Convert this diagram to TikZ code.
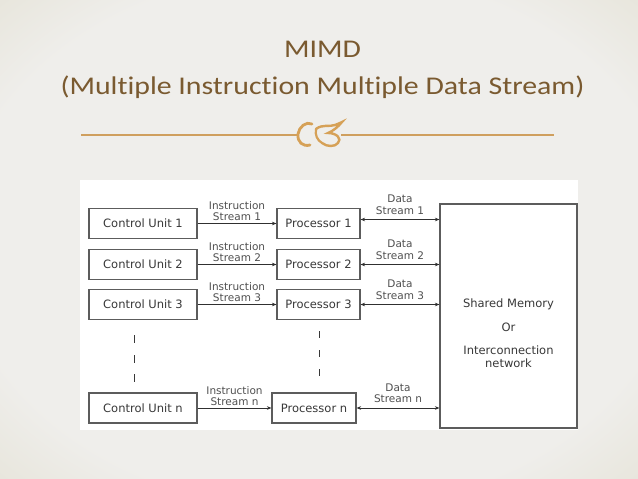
\documentclass[tikz,border=0pt]{standalone}
\usepackage{fontspec}
\setmainfont{DejaVu Sans}
\newfontfamily\titlefont[Ligatures={NoCommon}]{Carlito}
\usetikzlibrary{arrows.meta}
\definecolor{bgin}{HTML}{EFEEEB}
\definecolor{bgout}{HTML}{DAD6C0}
\definecolor{titlec}{HTML}{7A5A30}
\definecolor{goldc}{HTML}{D6A157}
\definecolor{rulec}{HTML}{CF9F5E}
\definecolor{boxc}{HTML}{5C5C5C}
\definecolor{txtc}{HTML}{383838}
\definecolor{lblc}{HTML}{505050}
\definecolor{arrc}{HTML}{303030}
\pgfdeclareradialshading{slidebg}{\pgfpoint{0bp}{0bp}}{color(0bp)=(bgin); color(28bp)=(bgin); color(50bp)=(bgout); color(72bp)=(bgout)}
\begin{document}
\begin{tikzpicture}[x=1pt,y=-1pt,
  box/.style={draw=boxc, line width=1.2pt, fill=white, inner sep=0pt, text=txtc, font=\fontsize{11.5}{13}\selectfont},
  cubox/.style={box, minimum width=108pt, minimum height=30pt},
  pbox/.style={box, minimum width=83pt, minimum height=30pt},
  ilbl/.style={font=\fontsize{10.5}{11}\selectfont, text=lblc, align=center, inner sep=2pt},
  dlbl/.style={font=\fontsize{10.5}{11.5}\selectfont, text=lblc, align=center, inner sep=4.5pt},
  conn/.style={draw=arrc, line width=0.8pt, -{Stealth[length=4.5pt,width=3.6pt]}},
  dconn/.style={draw=arrc, line width=0.8pt, {Stealth[length=4.5pt,width=3.6pt]}-{Stealth[length=4.5pt,width=3.6pt]}},
  titlestyle/.style={font=\titlefont\fontsize{25.5}{28}\selectfont, text=titlec, inner sep=0pt, anchor=base},
  vdots/.style={draw=txtc, line width=0.9pt}
]
\useasboundingbox (0,0) rectangle (638,479);
\shade[shading=slidebg] (0,0) rectangle (638,479);

% title
\node[titlestyle] (t1) at (322.5,57) {\scalebox{1.17}[1]{MIMD}};
\node[titlestyle] (t2) at (322.5,94) {\scalebox{1.17}[1]{(Multiple Instruction Multiple Data Stream)}};

% gold rule with ornament
\draw[rulec, line width=1.3pt] (81,135) -- (299,135);
\draw[rulec, line width=1.3pt] (341,135) -- (554,135);
% "C"
\draw[goldc, line width=2.8pt, line cap=round]
  (312,124) .. controls (306,121) and (299,127) .. (298,134)
  .. controls (297,142) and (303,147) .. (310,145);
% "B"
\draw[goldc, line width=2.4pt, line cap=round]
  (316,129) .. controls (322,124) and (330,127) .. (335,125)
  .. controls (338,124) and (340,123) .. (342,122)
  .. controls (338,127) and (333,131) .. (328,133)
  .. controls (337,133) and (342,139) .. (338,143)
  .. controls (335,147) and (327,147) .. (322,143);
\draw[goldc, line width=2.2pt, line cap=round]
  (316,129) .. controls (315,135) and (317,140) .. (322,143);

% white panel
\fill[white] (80,180) rectangle (578,430);

% boxes
\node[cubox] (cu1) at (143,223.5) {Control Unit 1};
\node[cubox] (cu2) at (143,264.5) {Control Unit 2};
\node[cubox] (cu3) at (143,304.5) {Control Unit 3};
\node[cubox] (cun) at (143,408) {Control Unit n};
\node[pbox] (p1) at (318.5,223.5) {Processor 1};
\node[pbox] (p2) at (318.5,264.5) {Processor 2};
\node[pbox] (p3) at (318.5,304.5) {Processor 3};
\node[pbox, minimum width=84pt] (pn) at (314,408) {Processor n};
\node[box, minimum width=137pt, minimum height=224pt] (mem) at (508.5,316) {};
\node[text=txtc, font=\fontsize{11.5}{13}\selectfont, align=center, inner sep=0pt] (memt) at (508.5,333.4)
  {Shared Memory\\[11.5pt]Or\\[10pt]Interconnection\\network};

% instruction streams
\draw[conn] (cu1) -- (p1) node[midway, above, ilbl] (il1) {Instruction\\Stream 1};
\draw[conn] (cu2) -- (p2) node[midway, above, ilbl] (il2) {Instruction\\Stream 2};
\draw[conn] (cu3) -- (p3) node[midway, above, ilbl] (il3) {Instruction\\Stream 3};
\draw[conn] (cun) -- (pn) node[midway, above, ilbl] (iln) {Instruction\\Stream n};

% data streams
\draw[dconn] ([yshift=4pt]p1.east) -- ([yshift=4pt]p1.east -| mem.west) node[midway, above, dlbl] (dl1) {Data\\Stream 1};
\draw[dconn] (p2.east) -- (p2.east -| mem.west) node[midway, above, dlbl] (dl2) {Data\\Stream 2};
\draw[dconn] (p3.east) -- (p3.east -| mem.west) node[midway, above, dlbl] (dl3) {Data\\Stream 3};
\draw[dconn] (pn.east) -- (pn.east -| mem.west) node[midway, above, dlbl] (dln) {Data\\Stream n};

% vertical ellipsis marks
\draw[vdots] (134,335) -- (134,343);
\draw[vdots] (134,355) -- (134,363);
\draw[vdots] (134,374) -- (134,382);
\draw[vdots] (319,331) -- (319,338);
\draw[vdots] (319,350) -- (319,357);
\draw[vdots] (319,369) -- (319,376);
\end{tikzpicture}
\end{document}
